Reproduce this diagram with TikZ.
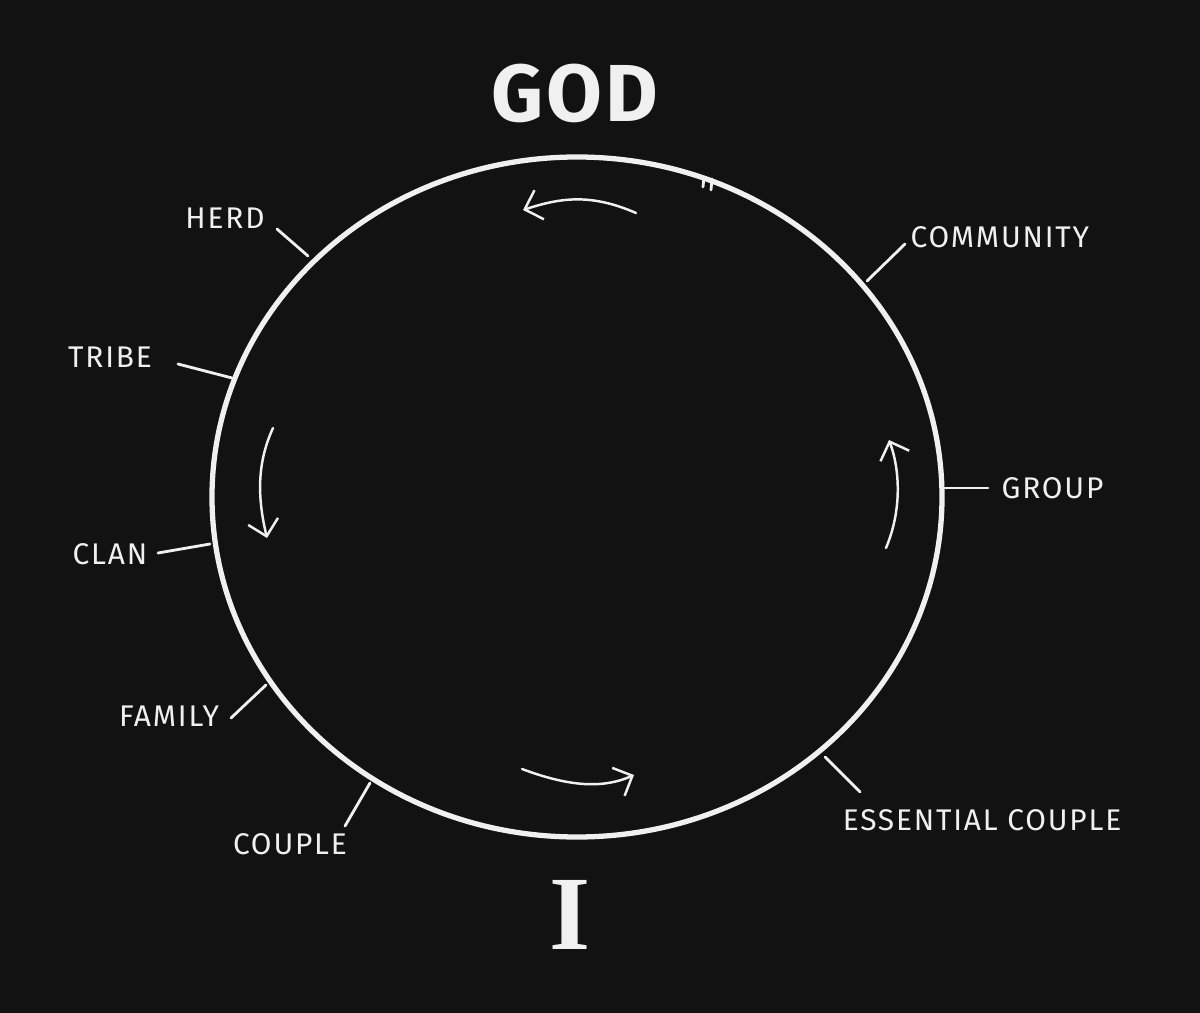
\documentclass[tikz,border=0pt]{standalone}
\usepackage{fontspec}
\setmainfont{Fira Sans}
\newfontfamily\barfont{Liberation Serif}
\usetikzlibrary{calc}
\usetikzlibrary{positioning}
\usetikzlibrary{arrows.meta}
\definecolor{bgdark}{HTML}{121212}
\definecolor{chalk}{HTML}{F0F0F0}

\begin{document}
\begin{tikzpicture}[%
  x=0.01cm, y=-0.01cm,
  >={Straight Barb[scale=1.5]},
  label/.style={text=chalk, font=\fontsize{8.5}{10}\selectfont\addfontfeatures{LetterSpace=6}, inner sep=0pt},
  tick/.style={draw=chalk, line width=0.8pt, line cap=round},
  flow/.style={draw=chalk, line width=0.7pt, line cap=round, ->},
]

  \fill[bgdark] (0,0) rectangle (1200,1013);
  \useasboundingbox (0,0) rectangle (1200,1013);

  % the circle
  \draw[chalk, line width=1.5pt] (577,497) ellipse [x radius=365, y radius=340];
  \draw[chalk, line width=0.8pt, line cap=round] (704,177) -- (703,187) (712,179) -- (711,190);

  \node[text=chalk, font=\fontsize{23}{26}\selectfont\bfseries\addfontfeatures{LetterSpace=4}] (god) at (575,93) {GOD};
  \node[text=chalk, font=\fontsize{30}{32}\selectfont\barfont\bfseries] (i) at (570,915) {I};

  % ticks
  \coordinate (herd-in) at (308,256);      \coordinate (herd-out) at (277,229);
  \coordinate (comm-in) at (867,281);      \coordinate (comm-out) at (905,244);
  \coordinate (tribe-in) at (232,378);     \coordinate (tribe-out) at (178,364);
  \coordinate (group-in) at (945,488);     \coordinate (group-out) at (988,488);
  \coordinate (clan-in) at (210,544);      \coordinate (clan-out) at (158,553);
  \coordinate (family-in) at (266,685);    \coordinate (family-out) at (231,718);
  \coordinate (ess-in) at (825,757);       \coordinate (ess-out) at (860,792);
  \coordinate (couple-in) at (370,783);    \coordinate (couple-out) at (345,826);

  \draw[tick] (herd-in) -- (herd-out);
  \draw[tick] (comm-in) -- (comm-out);
  \draw[tick] (tribe-in) -- (tribe-out);
  \draw[tick] (group-in) -- (group-out);
  \draw[tick] (clan-in) -- (clan-out);
  \draw[tick] (family-in) -- (family-out);
  \draw[tick] (ess-in) -- (ess-out);
  \draw[tick] (couple-in) -- (couple-out);

  \node[label] (herd) at (225,218) {HERD};
  \node[label, anchor=west] (community) at (910,237) {COMMUNITY};
  \node[label] (tribe) at (110,357) {TRIBE};
  \node[label, anchor=west] (group) at (1001,488) {GROUP};
  \node[label] (clan) at (110,554) {CLAN};
  \node[label] (family) at (169,716) {FAMILY};
  \node[label] (essential) at (982,820) {ESSENTIAL COUPLE};
  \node[label] (couple) at (290,844) {COUPLE};

  % direction of travel
  \coordinate (top-a) at (636,213);    \coordinate (top-b) at (523,210);
  \coordinate (left-a) at (273,428);   \coordinate (left-b) at (267,538);
  \coordinate (bot-a) at (522,769);    \coordinate (bot-b) at (634,775);
  \coordinate (right-a) at (886,548);  \coordinate (right-b) at (889,440);

  \draw[flow] (top-a) .. controls (590,193) and (560,198) .. (top-b);
  \draw[flow] (left-a) .. controls (256,465) and (258,500) .. (left-b);
  \draw[flow] (bot-a) .. controls (565,785) and (600,790) .. (bot-b);
  \draw[flow] (right-a) .. controls (902,510) and (900,470) .. (right-b);

\end{tikzpicture}
\end{document}
